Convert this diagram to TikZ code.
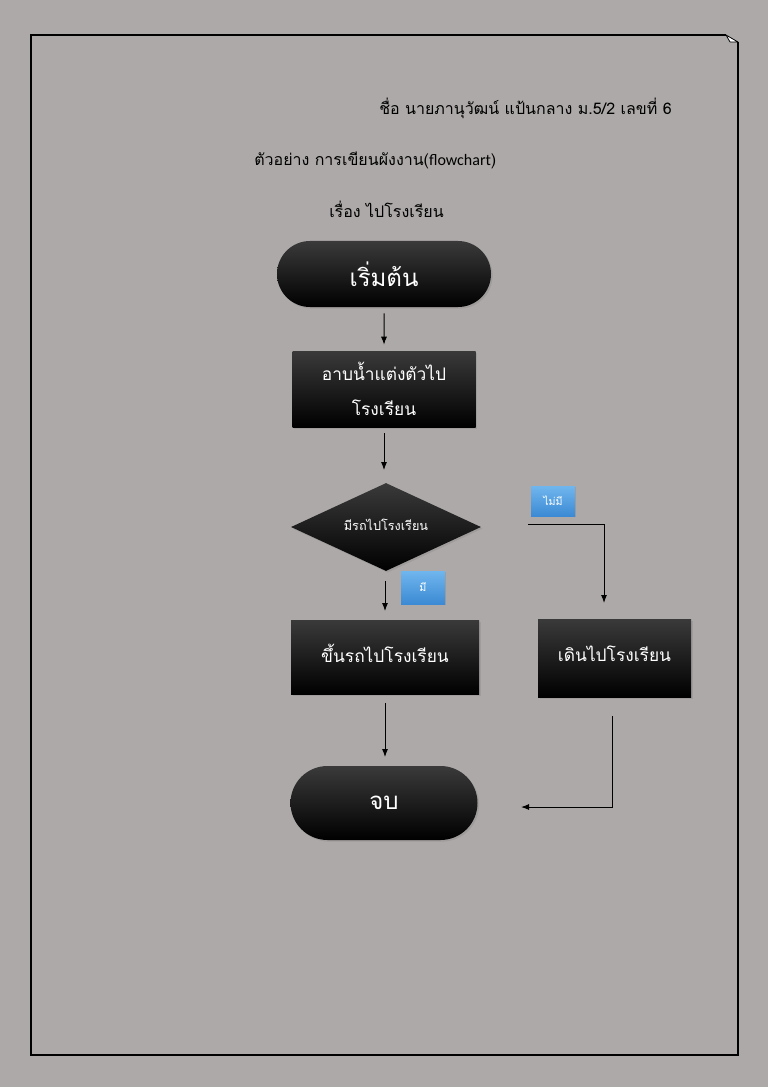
\documentclass[tikz,border=0pt]{standalone}
\usepackage{fontspec}
\usepackage{tikz}
\usetikzlibrary{arrows.meta, shapes.geometric, shapes.misc, shadows}
\newfontfamily\thaifont[Script=Thai]{Loma}
\newfontfamily\latinfont{Carlito}
\definecolor{pagegrey}{RGB}{173,169,168}
\definecolor{tagtop}{RGB}{112,182,238}
\definecolor{tagbottom}{RGB}{60,138,212}
\definecolor{boxtop}{RGB}{58,58,58}

\begin{document}
\begin{tikzpicture}[x=0.75pt,y=0.75pt,yscale=-1,xscale=1,
    blackbox/.style={draw=none, top color=boxtop, middle color=black, bottom color=black,
        text=white, align=center, inner sep=0pt,
        drop shadow={opacity=0.3, shadow xshift=1.2pt, shadow yshift=-1.2pt}},
    termbox/.style={blackbox, rounded rectangle},
    procbox/.style={blackbox, rectangle},
    choicebox/.style={blackbox, diamond, aspect=2.16},
    tagbox/.style={rectangle, top color=tagtop, bottom color=tagbottom, text=white,
        inner sep=0pt, font=\thaifont\fontsize{8}{9}\selectfont,
        drop shadow={opacity=0.3, shadow xshift=1pt, shadow yshift=-1pt}},
    arr/.style={-{Latex[length=6pt,width=4.5pt]}, line width=0.75pt, black}]

        %Shape: Page
        \fill [pagegrey] (0,0) rectangle (768,1087);
        \useasboundingbox (0,0) rectangle (768,1087);
        %Straight Lines: border
        \draw [line width=0.9pt] (726,35) -- (31,35) -- (31,1055) -- (738,1055) -- (738,42) ;
        \draw [fill=white, line width=0.6pt, line join=round] (726,35) -- (738,42) -- (730,42) -- cycle ;

        % Text Node
        \node (owner) [anchor=west, inner sep=0.75pt, font=\thaifont\fontsize{12}{14}\selectfont] at (378,108) {ชื่อ นายภานุวัฒน์ แป้นกลาง ม.5/2 เลขที่ 6};
        % Text Node
        \node (sample) [anchor=west, inner sep=0.75pt, font=\thaifont\fontsize{12}{14}\selectfont] at (253,160) {ตัวอย่าง การเขียนผังงาน(\latinfont flowchart\thaifont)};
        % Text Node
        \node (topic) [anchor=west, inner sep=0.75pt, font=\thaifont\fontsize{12}{14}\selectfont] at (328,209) {เรื่อง ไปโรงเรียน};

        % Flowchart Nodes
        \node (start) [termbox, minimum width=160.5pt, minimum height=49.5pt, font=\thaifont\fontsize{18}{20}\selectfont] at (384,274) {เริ่มต้น};
        \node (bath) [procbox, minimum width=137.25pt, minimum height=57pt, font=\thaifont\fontsize{13}{26}\selectfont] at (384,389) {อาบน้ำแต่งตัวไป\\ โรงเรียน};
        \node (hascar) [choicebox, minimum width=142.5pt, minimum height=66pt, font=\thaifont\fontsize{9.5}{11}\selectfont] at (386,527) {\raisebox{4pt}{มีรถไปโรงเรียน}};
        \node (bybus) [procbox, minimum width=141pt, minimum height=55.5pt, font=\thaifont\fontsize{13}{15}\selectfont] at (385,657) {\raisebox{5pt}{ขึ้นรถไปโรงเรียน}};
        \node (walk) [procbox, minimum width=114.75pt, minimum height=58.5pt, font=\thaifont\fontsize{13}{15}\selectfont] at (614.5,658) {\raisebox{6pt}{เดินไปโรงเรียน}};
        \node (finish) [termbox, minimum width=140.25pt, minimum height=55.5pt, font=\thaifont\fontsize{18}{20}\selectfont] at (384,803) {จบ};

        % Tag Nodes
        \node (notag) [tagbox, minimum width=33pt, minimum height=22.5pt] at (553,501) {ไม่มี};
        \node (yestag) [tagbox, minimum width=33pt, minimum height=24.75pt] at (423,587.5) {มี};

        % Free ends of the side branch
        \coordinate (noout) at (528,524);
        \coordinate (noin) at (604,603);
        \coordinate (walkout) at (612,716);
        \coordinate (finishin) at (521,807);

        %Straight Lines
        \draw [arr, shorten <=4.5pt, shorten >=4.5pt] (start) -- (bath) ;
        \draw [arr, shorten <=4.5pt, shorten >=9.5pt] (bath) -- (bath |- hascar.north) ;
        \draw [arr, shorten <=7.5pt, shorten >=6.5pt] (hascar.south -| bybus) -- (bybus) ;
        \draw [arr, shorten <=6.5pt, shorten >=6.5pt] (bybus) -- (bybus |- finish.north) ;
        \draw [arr] (noout) -| (noin) ;
        \draw [arr] (walkout) |- (finishin) ;

\end{tikzpicture}
\end{document}
